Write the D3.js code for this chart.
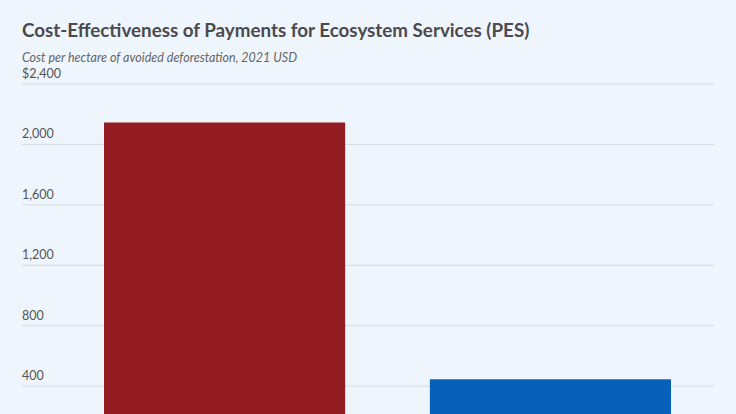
<!DOCTYPE html><html><head><meta charset="utf-8"><script src="https://cdn.jsdelivr.net/npm/d3@7"></script>
<style>body{margin:0;background:#eff5fd}</style></head><body><svg id="c" width="736" height="414"></svg>
<script>
const categories=["Program 1","Program 2"];
const values=[2145,445];
const colors=["#921c22","#0861b8"];
const ticks=[400,800,1200,1600,2000,2400];
const svg=d3.select("#c");
svg.append("rect").attr("width",736).attr("height",414).attr("fill","#eff5fd");
svg.append("text").attr("x",22).attr("y",37).text("Cost-Effectiveness of Payments for Ecosystem Services (PES)")
 .attr("font-family","Lato").attr("font-weight","bold").attr("font-size",18.8).attr("fill","#4a4a4f");
svg.append("text").attr("x",22).attr("y",62).text("Cost per hectare of avoided deforestation, 2021 USD")
 .attr("font-family","Lato").attr("font-style","italic").attr("font-size",12.5).attr("fill","#666");
const y=d3.scaleLinear().domain([0,2400]).range([446.5,84]);
const x=d3.scaleBand().domain(categories).range([104,671]).paddingInner(0.26).paddingOuter(0);
ticks.forEach(t=>{
 svg.append("line").attr("x1",22).attr("x2",714).attr("y1",y(t)).attr("y2",y(t)).attr("stroke","#d5dbe3");
 svg.append("text").attr("x",22).attr("y",y(t)-6).text(t===2400?"$2,400":d3.format(",")(t))
  .attr("font-family","Lato").attr("font-size",12.5).attr("fill","#555");
});
svg.selectAll(".b").data(values).enter().append("rect").attr("x",(d,i)=>x(categories[i])).attr("width",x.bandwidth())
 .attr("y",d=>y(d)).attr("height",d=>y(0)-y(d)).attr("fill",(d,i)=>colors[i]);
</script></body></html>
